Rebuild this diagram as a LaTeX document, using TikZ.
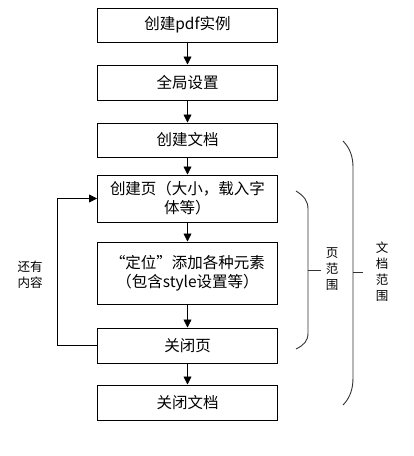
\documentclass[tikz,border=0pt]{standalone}
\usepackage{fontspec}
\setmainfont{Noto Sans CJK SC}
\usetikzlibrary{arrows.meta}
\begin{document}
\begin{tikzpicture}[
  x=1pt, y=-1pt,
  box/.style={draw, line width=1pt, minimum width=180pt, align=center,
    font=\fontsize{15.5}{19}\selectfont, inner sep=0pt},
  arr/.style={line width=0.8pt, -{Triangle[width=8pt,length=8pt]}},
  brk/.style={line width=0.9pt, draw=black!80},
  lbl/.style={align=center, font=\fontsize{12.5}{16}\selectfont}
]
\useasboundingbox (0,0) rectangle (414,456);
\node[box, minimum height=34pt] (pdf) at (187.5,25) {创建pdf实例};
\node[box, minimum height=35pt] (glob) at (187.5,82.5) {全局设置};
\node[box, minimum height=34pt] (doc) at (187.5,140) {创建文档};
\node[box, minimum height=47pt] (page) at (187.5,198.5) {创建页（大小，载入字\\体等）};
\node[box, minimum height=62pt] (elem) at (187.5,273) {“定位”添加各种元素\\（包含style设置等）};
\node[box, minimum height=35pt] (cpage) at (187.5,345.5) {关闭页};
\node[box, minimum height=35pt] (cdoc) at (187.5,402.5) {关闭文档};
\draw[arr] (pdf)--(glob);
\draw[arr] (glob)--(doc);
\draw[arr] (doc)--(page);
\draw[arr] (page)--(elem);
\draw[arr] (elem)--(cpage);
\draw[arr] (cpage)--(cdoc);
\draw[arr] (cpage.west) -- ++(-40,0) |- (page.west);
\node[lbl] (more) at (30,275) {还有\\内容};
% brackets
\draw[brk] (296,191) .. controls (304,196) and (308,201) .. (308,209)
  -- (308,333) .. controls (308,341) and (304,345) .. (296,349);
\draw[brk] (308,270) -- (321,270);
\node[lbl] (prange) at (332,269) {页\\范\\围};
\draw[brk] (343,141) .. controls (350,148) and (353,157) .. (353,167)
  -- (353,378) .. controls (353,389) and (350,398) .. (343,405);
\draw[brk] (353,272) -- (363,272);
\node[lbl] (drange) at (382,272) {文\\档\\范\\围};
\end{tikzpicture}
\end{document}
